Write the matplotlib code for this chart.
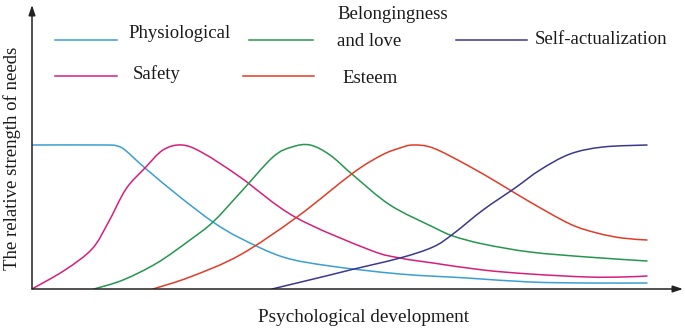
import numpy as np
import matplotlib
matplotlib.use('Agg')
import matplotlib.pyplot as plt
from matplotlib.path import Path
from matplotlib.patches import PathPatch

# development stage (horizontal) vs relative strength of needs (vertical)
phys_x = [0, 73, 85, 93, 113, 148, 181, 208, 251, 298, 368, 435, 498, 555, 615]
phys_y = [144, 144, 143, 139, 121, 92, 67, 51, 32, 23, 15, 11, 7, 6, 6]

safe_x = [0, 33, 60, 76, 94, 113, 131, 150, 171, 208, 263, 338, 368, 401, 451, 498, 555, 590, 615]
safe_y = [0, 19, 40, 66, 100, 121, 139, 144, 136, 112, 72, 39, 31, 26, 19, 15, 12, 12, 13]

belong_x = [62, 91, 125, 158, 181, 208, 241, 260, 278, 298, 321, 358, 401, 421, 451, 498, 555, 615]
belong_y = [0, 9, 26, 49, 67, 96, 132, 142, 144, 134, 114, 84, 62, 53, 45, 37, 32, 28]

esteem_x = [121, 158, 208, 265, 321, 350, 368, 381, 401, 435, 468, 498, 538, 565, 590, 615]
esteem_y = [0, 12, 34, 72, 116, 134, 141, 144, 141, 124, 105, 87, 65, 56, 51, 49]

selfact_x = [240, 298, 318, 368, 401, 421, 451, 483, 508, 538, 571, 615]
selfact_y = [0, 14, 19, 31, 42, 55, 79, 101, 119, 135, 142, 144]

series = [
    ('Physiological', phys_x, phys_y, '#3a9fd2'),
    ('Safety', safe_x, safe_y, '#d71f79'),
    ('Belongingness\nand love', belong_x, belong_y, '#25964e'),
    ('Esteem', esteem_x, esteem_y, '#e23b26'),
    ('Self-actualization', selfact_x, selfact_y, '#3b3890'),
]


def smooth_path(xs, ys):
    # cubic bezier segments through the read points (catmull-rom tangents)
    p = np.column_stack([xs, ys]).astype(float)
    verts = [p[0]]
    codes = [Path.MOVETO]
    n = len(p)
    for i in range(n - 1):
        p0 = p[i - 1] if i > 0 else p[i]
        p3 = p[i + 2] if i + 2 < n else p[i + 1]
        c1 = p[i] + (p[i + 1] - p0) / 6
        c2 = p[i + 1] - (p3 - p[i]) / 6
        verts += [c1, c2, p[i + 1]]
        codes += [Path.CURVE4] * 3
    return Path(verts, codes)


plt.rcParams['font.family'] = ['Liberation Serif', 'DejaVu Serif']

fig = plt.figure(figsize=(6.85, 3.29), dpi=100)
W, H = 685, 329
ax = fig.add_axes([32 / W, 40 / H, 651 / W, 284 / H])
ax.set_xlim(0, 651)
ax.set_ylim(0, 284)
for s in ax.spines.values():
    s.set_visible(False)
ax.set_xticks([])
ax.set_yticks([])

for name, xs, ys, col in series:
    ax.add_patch(PathPatch(smooth_path(xs, ys), facecolor='none', edgecolor=col,
                           lw=1.1, capstyle='round'))

# axes with arrow heads
arrow = dict(arrowstyle='-|>,head_length=0.6,head_width=0.2', color='#222222', lw=1.1,
             shrinkA=0, shrinkB=0)
ax.annotate('', xy=(651, 0), xytext=(0, 0), xycoords='data', arrowprops=arrow, annotation_clip=False)
ax.annotate('', xy=(0, 284), xytext=(0, 0), xycoords='data', arrowprops=arrow, annotation_clip=False)


# hand-placed legend, in figure pixels
def fx(px):
    return px / W


def fy(py):
    return 1 - py / H


legend_pos = [
    ((55, 117, 40), (128, 34)),
    ((55, 117, 76), (133, 74)),
    ((249, 313, 40), (337, 28)),
    ((243, 314, 76), (342, 79)),
    ((456, 527, 40), (535, 40)),
]
for (name, xs, ys, col), ((x0, x1, ly), (tx, ty)) in zip(series, legend_pos):
    fig.add_artist(plt.Line2D([fx(x0), fx(x1)], [fy(ly), fy(ly)], color=col, lw=1.1))
    fig.text(fx(tx), fy(ty), name, ha='left', va='center', fontsize=13.5,
             color='#1a1a1a', linespacing=1.7)

fig.text(fx(364), fy(317), 'Psychological development', ha='center', va='center',
         fontsize=13.8, color='#1a1a1a')
fig.text(fx(12), fy(158), 'The relative strength of needs', ha='center', va='center',
         rotation=90, fontsize=13.5, color='#1a1a1a')

fig.savefig('out.png', dpi=100)
